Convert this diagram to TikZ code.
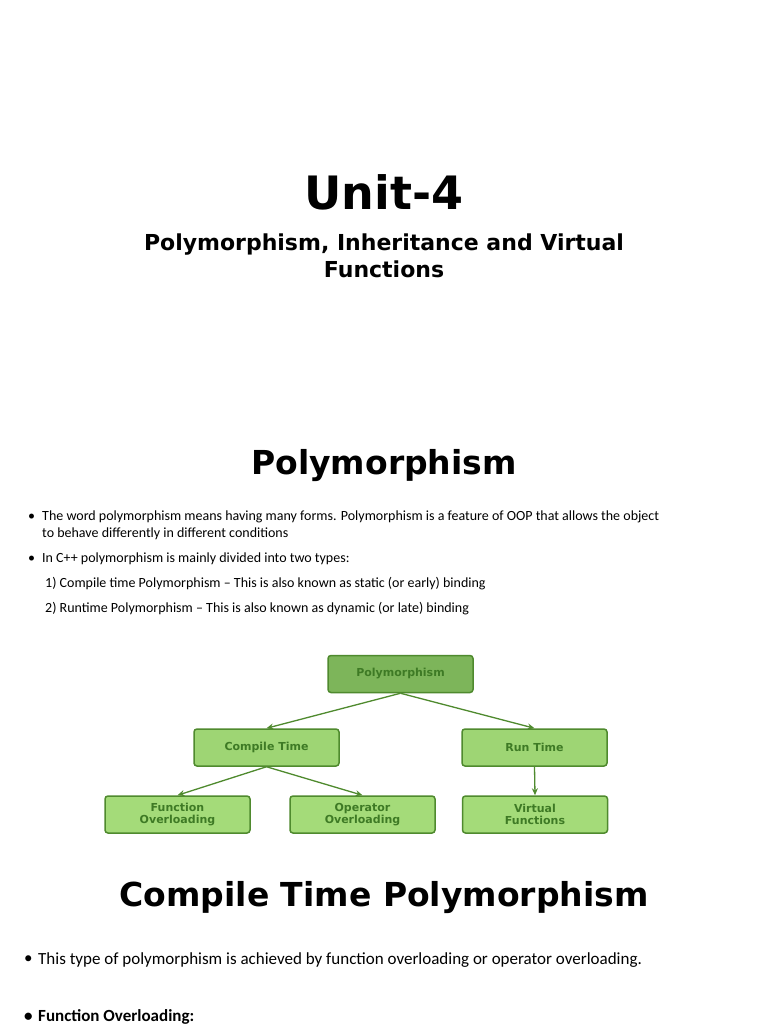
\documentclass[tikz,border=0pt]{standalone}
\usepackage{fontspec}
\setmainfont{DejaVu Sans}
\newfontfamily\carl{Carlito}
\newfontfamily\dv{DejaVu Sans}
\usetikzlibrary{arrows.meta}
\definecolor{dk}{HTML}{7DB55A}
\definecolor{lt}{HTML}{A4DB79}
\definecolor{bd}{HTML}{4F8A2E}
\definecolor{tx}{HTML}{3E7A25}
\begin{document}
\begin{tikzpicture}[x=1pt,y=-1pt,
 box/.style={draw=bd,line width=1.5pt,rounded corners=3pt,minimum width=145pt,minimum height=37pt,inner sep=0pt,align=center,font=\dv\bfseries\fontsize{11}{12}\selectfont,text=tx},
 arr/.style={draw=bd,line width=1.3pt,-{Stealth[length=7pt,width=6pt]}},
 bl/.style={anchor=west,font=\carl\fontsize{14}{17}\selectfont,inner sep=0pt}]
\useasboundingbox (0,0) rectangle (768,1024);
\fill[white] (0,0) rectangle (768,1024);
\node[font=\bfseries\fontsize{46}{50}\selectfont] (t) at (384,192) {Unit-4};
\node[font=\bfseries\fontsize{22}{27}\selectfont,align=center] (st) at (384,256) {Polymorphism, Inheritance and Virtual\\Functions};
\node[font=\bfseries\fontsize{33}{38}\selectfont] (h1) at (384,466) {Polymorphism};
\node[bl] (b1) at (28,517) {•};
\node[bl,align=left] (l1) at (42,525) {The word polymorphism means having many forms. Polymorphism is a feature of OOP that allows the object\\to behave differently in different conditions};
\node[bl] (b2) at (28,559) {•};
\node[bl] (l2) at (42,559) {In C++ polymorphism is mainly divided into two types:};
\node[bl] (l3) at (45,584) {1) Compile time Polymorphism – This is also known as static (or early) binding};
\node[bl] (l4) at (45,609) {2) Runtime Polymorphism – This is also known as dynamic (or late) binding};
\node[box,fill=dk] (p) at (400.5,674) {Polymorphism};
\node[box,fill=lt!85!dk] (c) at (266.5,747.5) {Compile Time};
\node[box,fill=lt!85!dk] (r) at (534.5,747.5) {Run Time};
\node[box,fill=lt] (f) at (177.5,814.5) {Function\\Overloading};
\node[box,fill=lt] (o) at (362.5,814.5) {Operator\\Overloading};
\node[box,fill=lt] (v) at (535,814.5) {Virtual\\Functions};
\draw[arr] (p.south) -- (c.north);
\draw[arr] (p.south) -- (r.north);
\draw[arr] (c.south) -- (f.north);
\draw[arr] (c.south) -- (o.north);
\draw[arr] (r.south) -- (v.north);
\node[font=\bfseries\fontsize{33}{38}\selectfont] (h2) at (384,898) {Compile Time Polymorphism};
\node[bl,font=\carl\fontsize{17}{20}\selectfont] (b3) at (24,960) {•};
\node[bl,font=\carl\fontsize{17}{20}\selectfont] (l5) at (38,960) {This type of polymorphism is achieved by function overloading or operator overloading.};
\node[bl,font=\carl\bfseries\fontsize{17}{20}\selectfont] (b4) at (24,1017) {•};
\node[bl,font=\carl\bfseries\fontsize{17}{20}\selectfont] (l6) at (38,1017) {Function Overloading:};
\end{tikzpicture}
\end{document}
